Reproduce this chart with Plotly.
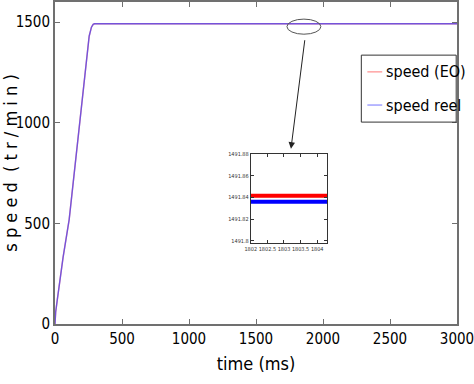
import plotly.graph_objects as go

# ---- data ----
time_ms = [0, 5, 17, 60, 106, 150, 186, 230, 255, 272, 285, 295, 3000]
speed_eo = [0, 60, 120, 330, 520, 790, 1000, 1300, 1430, 1475, 1489, 1491.8415, 1491.8415]
speed_reel = [0, 60, 120, 330, 520, 790, 1000, 1300, 1430, 1475, 1489, 1491.836, 1491.836]
series_names = ["speed (EO)", "speed reel"]

x_ticks = [0, 500, 1000, 1500, 2000, 2500, 3000]
y_ticks = [0, 500, 1000, 1500]
inset_x_ticks = [1802, 1802.5, 1803, 1803.5, 1804]
inset_x_labels = ["1802", "1802.5", "1803", "1803.5", "1804"]
inset_y_ticks = [1491.8, 1491.82, 1491.84, 1491.86, 1491.88]
inset_y_labels = ["1491.8", "1491.82", "1491.84", "1491.86", "1491.88"]

FONT = "DejaVu Sans Condensed, Liberation Sans Narrow, Liberation Sans, sans-serif"
C_EO = "rgba(255,0,0,0.4)"
C_REEL = "rgba(70,60,240,0.75)"

fig = go.Figure()
fig.add_trace(go.Scatter(x=time_ms, y=speed_eo, mode="lines", name=series_names[0],
                         line=dict(color=C_EO, width=1.4), showlegend=False))
fig.add_trace(go.Scatter(x=time_ms, y=speed_reel, mode="lines", name=series_names[1],
                         line=dict(color=C_REEL, width=1.4), showlegend=False))
# inset (zoom on the plateau)
fig.add_trace(go.Scatter(x=time_ms, y=speed_eo, mode="lines", showlegend=False,
                         line=dict(color="#ff0000", width=4), xaxis="x2", yaxis="y2"))
fig.add_trace(go.Scatter(x=time_ms, y=speed_reel, mode="lines", showlegend=False,
                         line=dict(color="#0000ff", width=4), xaxis="x2", yaxis="y2"))

axis_common = dict(showgrid=False, zeroline=False, showline=True, mirror="ticks",
                   linecolor="#707070", linewidth=2, ticks="inside", ticklen=5,
                   tickcolor="#707070", automargin=False, ticklabeloverflow="allow",
                   tickfont=dict(family=FONT, size=15, color="black"))
inset_common = dict(showgrid=False, zeroline=False, showline=True, mirror="ticks",
                    linecolor="#333", linewidth=1, ticks="inside", ticklen=3, tickcolor="#333",
                    automargin=False, tickangle=0,
                    tickfont=dict(family=FONT, size=5.5, color="#333"))

fig.update_layout(
    width=474, height=384,
    margin=dict(l=55, r=17, t=2, b=60, autoexpand=False),
    plot_bgcolor="white", paper_bgcolor="white",
    showlegend=False,
    xaxis=dict(range=[0, 3000], tickvals=x_ticks, domain=[0, 1],
               title=dict(text="time (ms)", font=dict(family=FONT, size=18, color="black"), standoff=10),
               **axis_common),
    yaxis=dict(range=[0, 1600], tickvals=y_ticks, domain=[0, 1],
               title=dict(text="s p e e d  ( t r / m i n )", font=dict(family=FONT, size=18, color="black"), standoff=4),
               **axis_common),
    xaxis2=dict(domain=[0.487, 0.677], anchor="y2", range=[1802, 1804.3],
                tickvals=inset_x_ticks, ticktext=inset_x_labels, **inset_common),
    yaxis2=dict(domain=[0.2516, 0.528], anchor="x2", range=[1491.798, 1491.88],
                tickvals=inset_y_ticks, ticktext=inset_y_labels, **inset_common),
)

# zoom ellipse + arrow
fig.add_shape(type="circle", xref="x", yref="y", x0=1731, x1=1984, y0=1440, y1=1515,
              line=dict(color="#555", width=1))
fig.add_annotation(x=1761, y=871, xref="x", yref="y", ax=14, ay=-110, axref="pixel", ayref="pixel",
                   showarrow=True, arrowhead=2, arrowsize=1.3, arrowwidth=1, arrowcolor="#222", text="")

# legend box (drawn like the MATLAB legend)
fig.add_shape(type="rect", xref="paper", yref="paper", x0=0.762, x1=0.998, y0=0.627, y1=0.835,
              line=dict(color="#333", width=1), fillcolor="white", layer="above")
for name, col, yy in [(series_names[0], "rgba(255,0,0,0.45)", 0.783), (series_names[1], "rgba(40,40,255,0.55)", 0.680)]:
    fig.add_shape(type="line", xref="paper", yref="paper", x0=0.777, x1=0.814, y0=yy, y1=yy,
                  line=dict(color=col, width=1.2), layer="above")
    fig.add_annotation(x=0.819, y=yy, xref="paper", yref="paper", text=name, showarrow=False,
                       xanchor="left", yanchor="middle",
                       font=dict(family=FONT, size=16, color="black"))

fig.write_html("out.html", config={"displayModeBar": False},
               post_script="document.body.style.margin='0';document.body.style.padding='0';")
